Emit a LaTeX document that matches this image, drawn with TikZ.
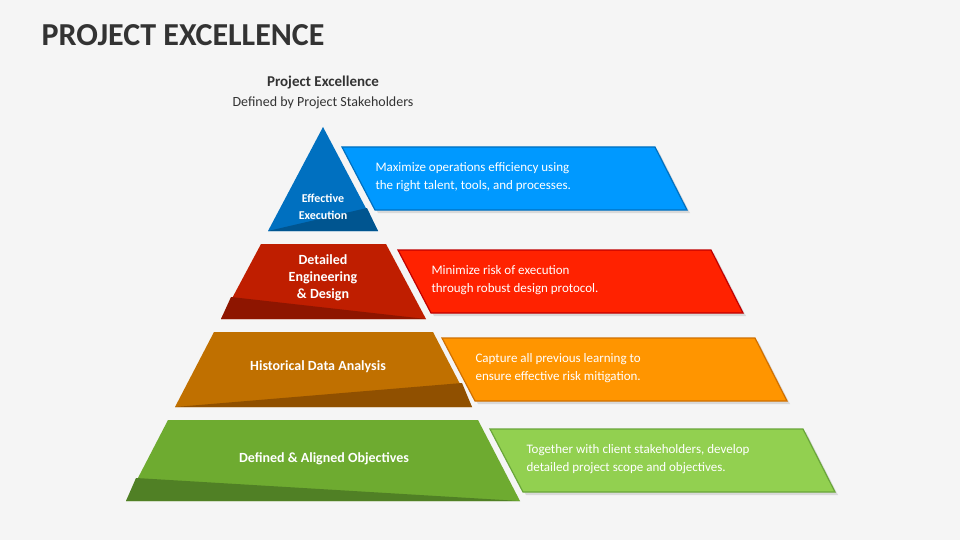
\documentclass[tikz,border=0pt]{standalone}
\usepackage{fontspec}
\setmainfont{Carlito}
\begin{document}
\begin{tikzpicture}[x=1pt,y=-1pt,
 lbl/.style={text=white,font=\bfseries\fontsize{14}{17}\selectfont,align=center},
 btxt/.style={text=white,font=\fontsize{13}{18}\selectfont,align=left,anchor=west},
 shad/.style={fill=black!25,opacity=0.5}]
\fill[gray!8] (0,0) rectangle (960,540);
\useasboundingbox (0,0) rectangle (960,540);
\node[anchor=west,font=\bfseries\fontsize{32}{36}\selectfont,text=black!80] (title) at (38,35) {PROJECT EXCELLENCE};
\node[font=\bfseries\fontsize{15}{18}\selectfont,text=black!80] (h1) at (323,83) {Project Excellence};
\node[font=\fontsize{14}{17}\selectfont,text=black!80] (h2) at (323,103) {Defined by Project Stakeholders};
% banners with shadows
\foreach \y/\xl/\c/\d in {147/342/0099FF/0070C0,250/398/FF2200/C00000,338/442/FF9500/D07000,429/490/92D050/6AA63A}{
 \definecolor{bf}{HTML}{\c}\definecolor{bd}{HTML}{\d}
 \fill[shad] (\xl+3,\y+3) -- (\xl+316,\y+3) -- (\xl+348,\y+66) -- (\xl+36,\y+66) -- cycle;
 \filldraw[fill=bf,draw=bd,line width=1.2] (\xl,\y) -- (\xl+313,\y) -- (\xl+345,\y+63) -- (\xl+33,\y+63) -- cycle;
}
\node[btxt] (b1) at (372,177) {Maximize operations efficiency using\\the right talent, tools, and processes.};
\node[btxt] (b2) at (428,280) {Minimize risk of execution\\through robust design protocol.};
\node[btxt] (b3) at (472,368) {Capture all previous learning to\\ensure effective risk mitigation.};
\node[btxt] (b4) at (523,459) {Together with client stakeholders, develop\\detailed project scope and objectives.};
% pyramid
\definecolor{c1}{HTML}{0070C0}\definecolor{c1d}{HTML}{005590}
\definecolor{c2}{HTML}{BF1E00}\definecolor{c2d}{HTML}{8E1500}
\definecolor{c3}{HTML}{C07000}\definecolor{c3d}{HTML}{905000}
\definecolor{c4}{HTML}{6EAB30}\definecolor{c4d}{HTML}{508025}
\fill[c1] (323,127) -- (378,231) -- (268,231) -- cycle;
\fill[c1d] (268,231) -- (367,208) -- (378,231) -- cycle;
\fill[c2] (261,244) -- (386,244) -- (426,319) -- (221,319) -- cycle;
\fill[c2d] (231,297) -- (426,319) -- (221,319) -- cycle;
\fill[c3] (214,332) -- (433,332) -- (472,407) -- (175,407) -- cycle;
\fill[c3d] (462,383) -- (472,407) -- (175,407) -- cycle;
\fill[c4] (168,420) -- (478,420) -- (520,501) -- (126,501) -- cycle;
\fill[c4d] (136,478) -- (520,501) -- (126,501) -- cycle;
\node[lbl,font=\bfseries\fontsize{12}{17}\selectfont] (p1) at (323,207) {Effective\\Execution};
\node[lbl] (p2) at (323,278) {Detailed\\Engineering\\\& Design};
\node[lbl] (p3) at (318,367) {Historical Data Analysis};
\node[lbl] (p4) at (324,459) {Defined \& Aligned Objectives};
\end{tikzpicture}
\end{document}
